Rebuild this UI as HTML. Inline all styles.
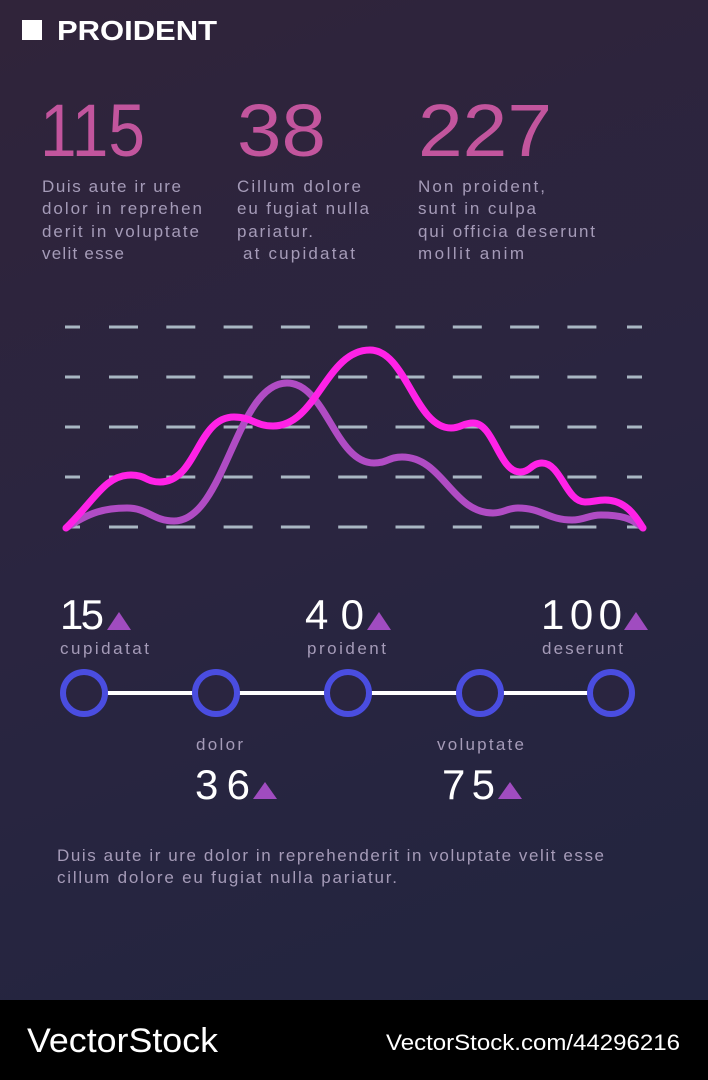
<!DOCTYPE html>
<html><head><meta charset="utf-8"><style>
body{margin:0;width:708px;height:1080px;overflow:hidden;font-family:"Liberation Sans",sans-serif}
.bg{position:absolute;left:0;top:0;width:708px;height:1000px;background:linear-gradient(160deg,#30243a 0%,#2a2540 50%,#22253f 100%)}
</style></head><body>
<div class="bg"></div>
<svg width="708" height="1080" style="position:absolute;left:0;top:0" font-family="Liberation Sans, sans-serif">
<rect x="22" y="20" width="20" height="20" fill="#fff"/>
<text x="57" y="40" font-size="28" font-weight="bold" fill="#fff" textLength="160" lengthAdjust="spacingAndGlyphs">PROIDENT</text>
<g fill="#c2559d" font-size="74">
<text x="40" y="156" textLength="105" lengthAdjust="spacingAndGlyphs">115</text>
<text x="237" y="156" textLength="89" lengthAdjust="spacingAndGlyphs">38</text>
<text x="418" y="156" textLength="134" lengthAdjust="spacingAndGlyphs">227</text>
</g>
<g fill="#a59bb8" font-size="17" lengthAdjust="spacingAndGlyphs">
<text x="42" y="192" textLength="139">Duis aute ir ure</text><text x="42" y="214" textLength="160">dolor in reprehen</text><text x="42" y="237" textLength="157">derit in voluptate</text><text x="42" y="259" textLength="82">velit esse</text>
<text x="237" y="192" textLength="124">Cillum dolore</text><text x="237" y="214" textLength="132">eu fugiat nulla</text><text x="237" y="237" textLength="76">pariatur.</text><text x="243" y="259" textLength="112">at cupidatat</text>
<text x="418" y="192" textLength="127">Non proident,</text><text x="418" y="214" textLength="118">sunt in culpa</text><text x="418" y="237" textLength="177">qui officia deserunt</text><text x="418" y="259" textLength="106">mollit anim</text>
</g>
<g stroke="#a9b7c3" stroke-width="3">
<g id="row"><line x1="65" x2="80" y1="327" y2="327"/><line x1="109" x2="600" y1="327" y2="327" stroke-dasharray="29 28.3"/><line x1="627" x2="642" y1="327" y2="327"/></g>
<use href="#row" y="50"/><use href="#row" y="100"/><use href="#row" y="150"/><use href="#row" y="200"/>
</g>
<g fill="none" stroke-width="7" stroke-linecap="round">
<path stroke="#b04cc4" d="M66 528 C90 512,105 508,127 508 C148 508,153 521,174 521 C225 521,236 383,287 383 C326 383,335 463,374 463 C387 463,389 457,402 457 C443 457,452 513,493 513 C504 513,507 508,518 508 C542 508,548 520,572 520 C585 520,588 515,601 515 C620 515,632 518,643 528"/>
<path stroke="#ff22e6" d="M66 528 C95 500,105 475,131 475 C146 475,146 482,160 482 C197 482,197 417,234 417 C252 417,255 426,273 426 C317 426,326 350,370 350 C406 350,415 428,451 428 C461 428,463 423,473 423 C494 423,499 472,520 472 C530 472,532 463,542 463 C561 463,566 502,585 502 C594 502,596 500,605 500 C625 500,635 515,643 528"/>
</g>
<line x1="84" x2="612" y1="693" y2="693" stroke="#fff" stroke-width="4"/>
<g fill="#2a2540" stroke="#4a4de0" stroke-width="6">
<circle cx="84" cy="693" r="21"/><circle cx="216" cy="693" r="21"/><circle cx="348" cy="693" r="21"/><circle cx="480" cy="693" r="21"/><circle cx="611" cy="693" r="21"/>
</g>
<g fill="#fff" font-size="42" lengthAdjust="spacingAndGlyphs">
<text x="60" y="629" textLength="44">15</text><text x="305" y="629" textLength="59">40</text><text x="541" y="629" textLength="81">100</text>
<text x="195" y="799" textLength="55">36</text><text x="442" y="799" textLength="53">75</text>
</g>
<g fill="#a04cc0">
<polygon points="107,630 131,630 119,612"/><polygon points="367,630 391,630 379,612"/><polygon points="624,630 648,630 636,612"/>
<polygon points="253,799 277,799 265,782"/><polygon points="498,799 522,799 510,782"/>
</g>
<g fill="#a59bb8" font-size="17" lengthAdjust="spacingAndGlyphs">
<text x="60" y="654" textLength="89">cupidatat</text><text x="307" y="654" textLength="79">proident</text><text x="542" y="654" textLength="81">deserunt</text>
<text x="196" y="750" textLength="47">dolor</text><text x="437" y="750" textLength="87">voluptate</text>
<text x="57" y="861" textLength="547">Duis aute ir ure dolor in reprehenderit in voluptate velit esse</text>
<text x="57" y="883" textLength="340">cillum dolore eu fugiat nulla pariatur.</text>
</g>
<rect x="0" y="1000" width="708" height="80" fill="#000"/>
<text x="27" y="1052" font-size="34" fill="#fff" textLength="191" lengthAdjust="spacingAndGlyphs">VectorStock</text>
<text x="386" y="1050" font-size="22" fill="#fff" textLength="294" lengthAdjust="spacingAndGlyphs">VectorStock.com/44296216</text>
</svg>
</body></html>
